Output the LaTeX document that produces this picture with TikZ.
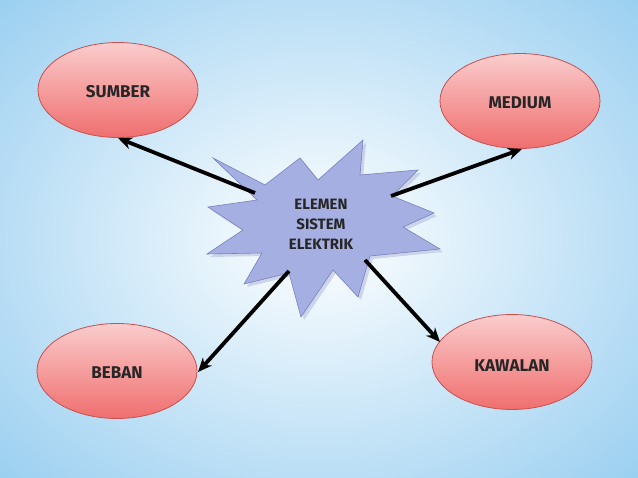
\documentclass[tikz,border=0pt]{standalone}
\usepackage{fontspec}
\setmainfont{Fira Sans}
\usetikzlibrary{arrows.meta,shadings,shapes.geometric}
\definecolor{bgblue}{RGB}{150,205,240}
\definecolor{pinktop}{RGB}{250,205,205}
\definecolor{pinkbot}{RGB}{240,110,110}
\definecolor{pinkline}{RGB}{200,80,80}
\definecolor{starfill}{RGB}{165,175,225}
\definecolor{starline}{RGB}{120,130,190}
\tikzset{
 oval/.style={ellipse, minimum width=160pt, minimum height=95pt, draw=pinkline, line width=0.8pt, top color=pinktop, bottom color=pinkbot},
 lbl/.style={font=\fontsize{17}{19}\selectfont\bfseries, text=black!85},
 conn/.style={-{Stealth[length=14pt,width=12pt]}, line width=3.8pt, black}
}
\begin{document}
\begin{tikzpicture}[x=1pt,y=-1pt]
\useasboundingbox (0,0) rectangle (638,478);
\shade[inner color=white, outer color=bgblue] (-150,-120) rectangle (788,598);
\node[oval] (sumber) at (118,90) {};
\node[lbl] at (118,92) {SUMBER};
\node[oval] (medium) at (520,101) {};
\node[lbl] at (520,103) {MEDIUM};
\node[oval] (beban) at (117,371) {};
\node[lbl] at (117,373) {BEBAN};
\node[oval] (kawalan) at (512,362) {};
\node[lbl] at (512,366) {KAWALAN};
\fill[starline!60, opacity=0.5, shift={(3,3)}] (213,158)--(265,185)--(300,158)--(318,180)--(363,140)--(360,175)--(418,170)--(392,196)--(434,213)--(403,227)--(440,249)--(370,256)--(358,297)--(333,270)--(301,317)--(289,273)--(244,284)--(262,253)--(207,254)--(243,230)--(208,207)--(257,200)--cycle;
\draw[fill=starfill, draw=starline, line width=0.6pt] (213,158)--(265,185)--(300,158)--(318,180)--(363,140)--(360,175)--(418,170)--(392,196)--(434,213)--(403,227)--(440,249)--(370,256)--(358,297)--(333,270)--(301,317)--(289,273)--(244,284)--(262,253)--(207,254)--(243,230)--(208,207)--(257,200)--cycle;
\node[font=\fontsize{15}{20}\selectfont\bfseries, text=black!85, align=center] (center) at (321,224) {ELEMEN\\SISTEM\\ELEKTRIK};
\coordinate (s1) at (255,193);
\coordinate (s2) at (391,196);
\coordinate (s3) at (289,271);
\coordinate (s4) at (365,260);
\coordinate (e1) at (118,138);
\coordinate (e2) at (522,149);
\coordinate (e3) at (198,372);
\coordinate (e4) at (440,342);
\draw[conn] (s1) -- (e1);
\draw[conn] (s2) -- (e2);
\draw[conn] (s3) -- (e3);
\draw[conn] (s4) -- (e4);
\end{tikzpicture}
\end{document}
